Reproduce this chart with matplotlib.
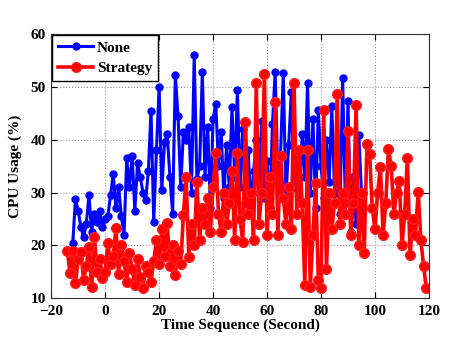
import matplotlib.pyplot as plt
import numpy as np

# CPU usage over time
none_x = list(range(-12, 96))
none_y = [20.5, 28.8, 26.5, 23.5, 21.5, 24, 29.5, 22.5, 26, 24.5,
          26.5, 23.5, 25, 25.5, 29.5, 33.5, 27, 31, 25.5, 22,
          36.5, 31, 37, 26.5, 35.5, 33, 30, 28.5, 34, 45.5,
          24.5, 38, 50, 30.5, 39.5, 41, 33, 26, 52.3, 44.5,
          31, 41.5, 40, 42.5, 30, 56, 32.5, 35, 52.8, 33,
          42.5, 27, 44, 46.8, 35, 41.5, 29, 39, 31, 46.2,
          33, 49.4, 31, 42, 28, 38, 27.5, 34, 40, 30,
          43.5, 29, 36, 27, 43, 52.9, 33, 37, 52.7, 29,
          39, 49.1, 31, 34, 28, 41, 33, 50.7, 30, 44,
          27, 45.7, 35, 29, 40, 32, 46.3, 30, 36, 26,
          51.6, 28, 47.3, 22.5, 33, 24, 40.9, 30]

strategy_x = list(range(-14, 120))
strategy_y = [18.9, 14.7, 19, 12.8, 17.5, 18.8, 13.5, 16, 19.7, 12.1,
              21.6, 15, 17.5, 13.8, 15, 20.4, 16.5, 18, 23.2, 14.5,
              20, 17, 13, 18.5, 15.5, 12.5, 17.5, 14, 12, 16,
              15, 13, 17, 21, 16.5, 23, 18, 24.3, 16, 20,
              14.4, 19, 16.5, 25.7, 33, 17.8, 24, 20, 32, 21,
              27, 24, 29, 22.5, 31, 37.4, 26, 22.5, 30, 24,
              28, 34, 21, 37.4, 25, 20.6, 43.4, 26, 30, 21,
              50.7, 24, 30, 52.4, 22, 33, 26, 47.2, 22, 37,
              29, 24, 31, 23, 50.7, 26, 38, 28, 12.5, 38,
              12.1, 22, 31.8, 13.5, 12, 45.6, 15.5, 30, 23, 28,
              48.6, 24, 30, 26, 41.7, 22, 28, 46.6, 20, 30,
              18.5, 39.2, 37.3, 27, 23, 30, 34.9, 22, 28, 38.2,
              35, 26, 30, 32.2, 20, 26, 36.6, 18.1, 25, 22,
              30.1, 21, 16.1, 12]

plt.rcParams['font.family'] = 'Liberation Serif'
plt.rcParams['font.weight'] = 'bold'

fig = plt.figure(figsize=(4.74, 3.38), dpi=100)
ax = fig.add_axes([0.108, 0.118, 0.797, 0.781])

ax.plot(none_x, none_y, color='blue', lw=2.2, marker='o', ms=5, label='None')
ax.plot(strategy_x, strategy_y, color='red', lw=2.6, marker='o', ms=7,
        mec='#ff2020', label='Strategy')

ax.set_xlim(-20, 120)
ax.set_ylim(10, 60)
ax.set_xticks(np.arange(-20, 121, 20))
ax.set_yticks(np.arange(10, 61, 10))
ax.set_xticklabels(['\u221220', '0', '20', '40', '60', '80', '100', '120'])
ax.grid(True, linestyle=':', color='#999999', lw=0.8)
ax.tick_params(direction='in', top=True, right=True, labelsize=11, length=4)
ax.tick_params(axis='x', pad=5)
ax.tick_params(axis='y', pad=4)
for s in ax.spines.values():
    s.set_color('#333333')

ax.set_xlabel('Time Sequence (Second)', fontsize=11, fontweight='bold', labelpad=0)
ax.set_ylabel('CPU Usage (%)', fontsize=11, fontweight='bold', labelpad=6)

leg = ax.legend(loc='upper left', fontsize=11, handlelength=2.3, fancybox=False,
                edgecolor='black', framealpha=1, borderaxespad=0.05,
                handletextpad=0.25, labelspacing=0.45, borderpad=0.4)
leg.get_frame().set_linewidth(1)

fig.savefig('out.png', dpi=100)
